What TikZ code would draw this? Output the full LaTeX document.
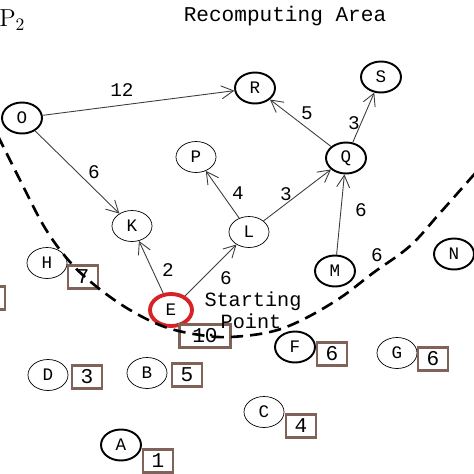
\documentclass[tikz,border=0pt]{standalone}
\usepackage{fontspec}
\setmonofont{Liberation Mono}
\usetikzlibrary{shapes.geometric,arrows.meta}
\definecolor{boxbrown}{RGB}{128,98,88}
\definecolor{startred}{RGB}{215,35,40}
\definecolor{linkgray}{RGB}{60,60,60}
\begin{document}
\begin{tikzpicture}[x=0.02cm,y=-0.02cm,font=\ttfamily,
	vertex/.style={ellipse,draw,thin,inner sep=0pt,minimum width=0.8cm,minimum height=0.62cm,font=\ttfamily\fontsize{10}{10}\selectfont},
	heavy/.style={vertex,line width=1.1pt},
	cost/.style={draw=boxbrown,line width=1.2pt,minimum width=0.6cm,minimum height=0.46cm,inner sep=0pt,font=\ttfamily\fontsize{12}{12}\selectfont},
	link/.style={-{Straight Barb[length=2.4mm,width=2.6mm]},linkgray,line width=0.5pt},
	lbl/.style={inner sep=0pt,font=\ttfamily\fontsize{11}{11}\selectfont},
	note/.style={inner sep=0pt,font=\ttfamily\fontsize{11.5}{11.5}\selectfont}]
	\useasboundingbox (0,0) rectangle (474,474);

	\node [anchor=west,font=\fontsize{14}{14}\selectfont,inner sep=0pt] (ptwo) at (-1,20) {$\mathrm{P}_2$};
	\node [font=\ttfamily\fontsize{12}{12}\selectfont] (title) at (285,16) {Recomputing Area};

	\foreach \name/\x/\y in {O/22/118,R/255/88,S/381/77,Q/346/158,M/335/271,N/454/254,F/295/347,A/121/445}
		\node [heavy] (\name) at (\x,\y) {\name};
	\foreach \name/\x/\y in {P/196/157,K/132/226,L/249/232,H/47/263,G/397/353,C/264/412,D/48/375,B/147/373}
		\node [vertex] (\name) at (\x,\y) {\name};
	\node [vertex,draw=startred,line width=2.2pt,minimum width=0.84cm,minimum height=0.64cm] (E) at (171,310) {E};

	\foreach \name/\x/\y/\val in {costH/83/277/7,costD/87/377/3,costB/187/375/5,costA/158/461/1,costF/332/354/6,costG/433/359/6,costC/301/426/4,costX/-10/298/{}}
		\node [cost] (\name) at (\x,\y) {\val};
	\node [cost,minimum width=1.02cm] (costE) at (205,336) {10};

	\draw [link] (O) -- (R);
	\draw [link] (O) -- (K);
	\draw [link] (E) -- (K);
	\draw [link] (E) -- (L);
	\draw [link] (L) -- (P);
	\draw [link] (L) -- (Q);
	\draw [link] (Q) -- (R);
	\draw [link] (Q) -- (S);
	\draw [link] (M) -- (Q);

	\foreach \name/\x/\y/\val in {wOR/122/90/12,wOK/94/172/6,wEK/168/270/2,wEL/226/278/6,wLP/238/193/4,wLQ/286/194/3,wQR/307/113/5,wQS/354/123/3,wMQ/361/210/6,wMN/377/255/6}
		\node [lbl] (\name) at (\x,\y) {\val};

	\node [note] (start) at (253,301) {Starting};
	\node [note] (point) at (251,321) {Point};

	\draw [line width=1.5pt,dash pattern=on 7pt off 4pt] plot [smooth,tension=0.6] coordinates
		{(-2,136) (20,180) (45,228) (70,262) (97,287) (130,310) (165,327) (200,335) (230,337) (270,332) (302,320) (340,298) (373,273) (410,246) (440,213) (478,170)};
\end{tikzpicture}
\end{document}
